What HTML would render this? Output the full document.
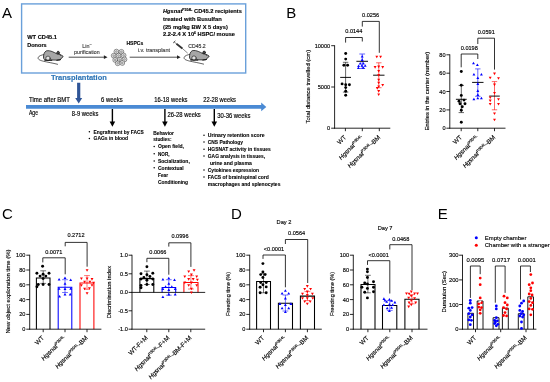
<!DOCTYPE html>
<html lang="en"><head><meta charset="utf-8"><title>Figure</title>
<style>
html,body{margin:0;padding:0;background:#fff;}
svg{display:block;font-family:'Liberation Sans', sans-serif;}
</style></head>
<body>
<svg width="550" height="382" viewBox="0 0 550 382">
<rect width="550" height="382" fill="#fff"/>
<text x="2.00" y="18.30" font-size="15" text-anchor="start" fill="#000" stroke="none">A</text>
<text x="286.30" y="18.30" font-size="15" text-anchor="start" fill="#000" stroke="none">B</text>
<text x="1.90" y="219.40" font-size="15" text-anchor="start" fill="#000" stroke="none">C</text>
<text x="230.90" y="219.10" font-size="15" text-anchor="start" fill="#000" stroke="none">D</text>
<text x="437.70" y="219.10" font-size="15" text-anchor="start" fill="#000" stroke="none">E</text>
<rect x="21.6" y="3.9" width="224.1" height="69.1" fill="#fff" stroke="#6aa0da" stroke-width="1.4"/>
<text x="27.20" y="39.30" font-size="5.8" text-anchor="start" fill="#000" font-weight="bold" textLength="29.80" lengthAdjust="spacingAndGlyphs" stroke="#000" stroke-width="0.12">WT CD45.1</text>
<text x="27.20" y="47.00" font-size="5.8" text-anchor="start" fill="#000" font-weight="bold" textLength="19.50" lengthAdjust="spacingAndGlyphs" stroke="#000" stroke-width="0.12">Donors</text>
<text x="87.00" y="47.50" font-size="5.4" text-anchor="middle" fill="#3c3c3c" stroke="#3c3c3c" stroke-width="0.14">Lin<tspan font-size="4" dy="-1.9">−</tspan></text>
<text x="86.90" y="53.90" font-size="5.4" text-anchor="middle" fill="#3c3c3c" textLength="25.60" lengthAdjust="spacingAndGlyphs" stroke="#3c3c3c" stroke-width="0.14">purification</text>
<line x1="68.70" y1="57.20" x2="105.00" y2="57.20" stroke="#3a3a3a" stroke-width="0.9"/>
<path d="M107.5 57.2L103.9 55.3L103.9 59.1Z" fill="#222"/>
<text x="126.40" y="45.10" font-size="5.8" text-anchor="start" fill="#000" font-weight="bold" textLength="16.80" lengthAdjust="spacingAndGlyphs" stroke="#000" stroke-width="0.12">HSPCs</text>
<line x1="129.70" y1="57.20" x2="178.00" y2="57.20" stroke="#3a3a3a" stroke-width="0.9"/>
<path d="M180.6 57.2L177 55.3L177 59.1Z" fill="#222"/>
<text x="153.90" y="52.30" font-size="5.4" text-anchor="middle" fill="#3c3c3c" textLength="32.20" lengthAdjust="spacingAndGlyphs" stroke="#3c3c3c" stroke-width="0.14">i.v. transplant</text>
<text x="188.30" y="47.60" font-size="5.4" text-anchor="start" fill="#2e2e2e" textLength="17.40" lengthAdjust="spacingAndGlyphs" stroke="#2e2e2e" stroke-width="0.14">CD45.2</text>
<text x="163.00" y="13.20" font-size="5.5" text-anchor="start" fill="#000" font-weight="bold" textLength="78.90" lengthAdjust="spacingAndGlyphs" stroke="#000" stroke-width="0.12"><tspan font-style="italic">Hgsnat</tspan><tspan font-size="3.3" dy="-2.1">P304L</tspan><tspan dy="2.2"> CD45.2 recipients</tspan></text>
<text x="163.00" y="20.90" font-size="5.8" text-anchor="start" fill="#000" font-weight="bold" textLength="58.80" lengthAdjust="spacingAndGlyphs" stroke="#000" stroke-width="0.12">treated with Busulfan</text>
<text x="163.00" y="28.60" font-size="5.8" text-anchor="start" fill="#000" font-weight="bold" textLength="64.90" lengthAdjust="spacingAndGlyphs" stroke="#000" stroke-width="0.12">(25 mg/kg BW X 5 days)</text>
<text x="163.00" y="36.30" font-size="5.5" text-anchor="start" fill="#000" font-weight="bold" textLength="72.00" lengthAdjust="spacingAndGlyphs" stroke="#000" stroke-width="0.12">2.2-2.4 X 10<tspan font-size="3.3" dy="-2.1">6</tspan><tspan dy="2.2"> HSPC/ mouse</tspan></text>
<circle cx="116.40" cy="51.60" r="2.4" fill="#f0f0f0" stroke="#2a2a2a" stroke-width="0.5"/>
<circle cx="116.40" cy="51.60" r="1.0" fill="#bdbdbd" stroke="#555" stroke-width="0.35"/>
<circle cx="121.40" cy="51.80" r="2.4" fill="#f0f0f0" stroke="#2a2a2a" stroke-width="0.5"/>
<circle cx="121.40" cy="51.80" r="1.0" fill="#bdbdbd" stroke="#555" stroke-width="0.35"/>
<circle cx="113.70" cy="55.70" r="2.4" fill="#f0f0f0" stroke="#2a2a2a" stroke-width="0.5"/>
<circle cx="113.70" cy="55.70" r="1.0" fill="#bdbdbd" stroke="#555" stroke-width="0.35"/>
<circle cx="118.50" cy="55.60" r="2.4" fill="#f0f0f0" stroke="#2a2a2a" stroke-width="0.5"/>
<circle cx="118.50" cy="55.60" r="1.0" fill="#bdbdbd" stroke="#555" stroke-width="0.35"/>
<circle cx="123.60" cy="55.40" r="2.4" fill="#f0f0f0" stroke="#2a2a2a" stroke-width="0.5"/>
<circle cx="123.60" cy="55.40" r="1.0" fill="#bdbdbd" stroke="#555" stroke-width="0.35"/>
<circle cx="115.20" cy="60.00" r="2.4" fill="#f0f0f0" stroke="#2a2a2a" stroke-width="0.5"/>
<circle cx="115.20" cy="60.00" r="1.0" fill="#bdbdbd" stroke="#555" stroke-width="0.35"/>
<circle cx="119.80" cy="59.70" r="2.4" fill="#f0f0f0" stroke="#2a2a2a" stroke-width="0.5"/>
<circle cx="119.80" cy="59.70" r="1.0" fill="#bdbdbd" stroke="#555" stroke-width="0.35"/>
<circle cx="124.50" cy="59.40" r="2.4" fill="#f0f0f0" stroke="#2a2a2a" stroke-width="0.5"/>
<circle cx="124.50" cy="59.40" r="1.0" fill="#bdbdbd" stroke="#555" stroke-width="0.35"/>
<circle cx="117.70" cy="63.30" r="2.4" fill="#f0f0f0" stroke="#2a2a2a" stroke-width="0.5"/>
<circle cx="117.70" cy="63.30" r="1.0" fill="#bdbdbd" stroke="#555" stroke-width="0.35"/>
<circle cx="122.30" cy="63.00" r="2.4" fill="#f0f0f0" stroke="#2a2a2a" stroke-width="0.5"/>
<circle cx="122.30" cy="63.00" r="1.0" fill="#bdbdbd" stroke="#555" stroke-width="0.35"/>
<g transform="translate(37.2 50.4)" fill="none" stroke="#111" stroke-width="0.75" stroke-linejoin="round" stroke-linecap="round"><path d="M7 4.2C4.4 4.4 1.2 5.6 0.9 7.4C0.7 9.2 3 10 6.4 10.9C10.4 11.8 15.4 12.6 20.4 13.9" stroke-width="0.65"/><path d="M6.3 7.4C6 4.6 7 1.6 9 0.5C11.4 -0.1 13.4 0.6 15 1.2C16.8 1.9 18.2 2.6 19.6 3.4C21.6 3.6 24.4 4.6 25.8 5.8C26.2 6.6 25.4 7 24.6 7.2L23.8 8.6L22.6 9.5L19 9.7L13.6 9.6L7.6 9.2Z" fill="#a6a6a6"/><ellipse cx="20.9" cy="2.3" rx="1.25" ry="1.45" fill="#555" transform="rotate(25 20.9 2.3)"/><circle cx="23.2" cy="4.7" r="0.5" fill="#111" stroke="none"/><circle cx="10.8" cy="7.9" r="2.2" fill="#e2e2e2" stroke-width="0.6"/><path d="M7.6 9.9H14.6" stroke-width="1.0"/><path d="M19.6 9.9L23.2 9.3" stroke-width="1.0"/></g>
<g transform="translate(183.2 50.2)" fill="none" stroke="#111" stroke-width="0.75" stroke-linejoin="round" stroke-linecap="round"><path d="M7 4.2C4.4 4.4 1.2 5.6 0.9 7.4C0.7 9.2 3 10 6.4 10.9C10.4 11.8 15.4 12.6 20.4 13.9" stroke-width="0.65"/><path d="M6.3 7.4C6 4.6 7 1.6 9 0.5C11.4 -0.1 13.4 0.6 15 1.2C16.8 1.9 18.2 2.6 19.6 3.4C21.6 3.6 24.4 4.6 25.8 5.8C26.2 6.6 25.4 7 24.6 7.2L23.8 8.6L22.6 9.5L19 9.7L13.6 9.6L7.6 9.2Z" fill="#a6a6a6"/><ellipse cx="20.9" cy="2.3" rx="1.25" ry="1.45" fill="#555" transform="rotate(25 20.9 2.3)"/><circle cx="23.2" cy="4.7" r="0.5" fill="#111" stroke="none"/><circle cx="10.8" cy="7.9" r="2.2" fill="#e2e2e2" stroke-width="0.6"/><path d="M7.6 9.9H14.6" stroke-width="1.0"/><path d="M19.6 9.9L23.2 9.3" stroke-width="1.0"/></g>
<g stroke="#111" stroke-linecap="round"><line x1="174.2" y1="41.9" x2="176.4" y2="43.8" stroke-width="0.5"/><line x1="173.4" y1="42.8" x2="175.1" y2="41.1" stroke-width="0.7"/><line x1="176.4" y1="43.8" x2="182.4" y2="48.5" stroke-width="1.8" stroke="#333" stroke-linecap="butt"/><line x1="182.4" y1="48.5" x2="187.4" y2="52.9" stroke-width="0.5"/></g>
<text x="78.90" y="79.70" font-size="8.1" text-anchor="middle" fill="#2e75b6" font-weight="bold" textLength="55.80" lengthAdjust="spacingAndGlyphs" stroke="#2e75b6" stroke-width="0.15">Transplantation</text>
<path d="M77.1 82.7V98H75.2L78.7 103.6L82.2 98H80.3V82.7Z" fill="#2f5597"/>
<path d="M26.0 104.9H261.2V102.6L266.3 106.9L261.2 111.2V108.7H26.0Z" fill="#4a8ad4"/>
<text x="29.00" y="102.40" font-size="6.5" text-anchor="start" fill="#000" textLength="41.00" lengthAdjust="spacingAndGlyphs" stroke="#000" stroke-width="0.16">Time after BMT</text>
<text x="29.00" y="114.50" font-size="6.5" text-anchor="start" fill="#000" textLength="9.00" lengthAdjust="spacingAndGlyphs" stroke="#000" stroke-width="0.16">Age</text>
<text x="101.00" y="101.80" font-size="6.5" text-anchor="start" fill="#000" textLength="21.80" lengthAdjust="spacingAndGlyphs" stroke="#000" stroke-width="0.16">6 weeks</text>
<text x="71.80" y="116.00" font-size="6.5" text-anchor="start" fill="#000" textLength="26.60" lengthAdjust="spacingAndGlyphs" stroke="#000" stroke-width="0.16">8-9 weeks</text>
<text x="154.30" y="101.80" font-size="6.5" text-anchor="start" fill="#000" textLength="33.20" lengthAdjust="spacingAndGlyphs" stroke="#000" stroke-width="0.16">16-18 weeks</text>
<text x="167.60" y="117.40" font-size="6.5" text-anchor="start" fill="#000" textLength="33.20" lengthAdjust="spacingAndGlyphs" stroke="#000" stroke-width="0.16">26-28 weeks</text>
<text x="203.30" y="101.80" font-size="6.5" text-anchor="start" fill="#000" textLength="32.60" lengthAdjust="spacingAndGlyphs" stroke="#000" stroke-width="0.16">22-28 weeks</text>
<text x="217.20" y="117.60" font-size="6.5" text-anchor="start" fill="#000" textLength="33.30" lengthAdjust="spacingAndGlyphs" stroke="#000" stroke-width="0.16">30-36 weeks</text>
<line x1="112.40" y1="109.00" x2="112.40" y2="122.40" stroke="#000" stroke-width="1.4"/>
<path d="M109.60000000000001 121.6L112.4 126.7L115.2 121.6Z" fill="#000"/>
<line x1="164.90" y1="109.00" x2="164.90" y2="122.40" stroke="#000" stroke-width="1.4"/>
<path d="M162.1 121.6L164.9 126.7L167.70000000000002 121.6Z" fill="#000"/>
<line x1="214.30" y1="109.00" x2="214.30" y2="122.40" stroke="#000" stroke-width="1.4"/>
<path d="M211.5 121.6L214.3 126.7L217.10000000000002 121.6Z" fill="#000"/>
<circle cx="89.40" cy="131.80" r="0.75" fill="#000"/>
<text x="93.60" y="133.50" font-size="5.3" text-anchor="start" fill="#000" font-weight="bold" textLength="50.10" lengthAdjust="spacingAndGlyphs" stroke="#000" stroke-width="0.1">Engraftment by FACS</text>
<circle cx="89.40" cy="138.60" r="0.75" fill="#000"/>
<text x="93.60" y="140.30" font-size="5.3" text-anchor="start" fill="#000" font-weight="bold" textLength="34.50" lengthAdjust="spacingAndGlyphs" stroke="#000" stroke-width="0.1">GAGs in blood</text>
<text x="153.20" y="134.70" font-size="5.3" text-anchor="start" fill="#000" font-weight="bold" textLength="20.80" lengthAdjust="spacingAndGlyphs" stroke="#000" stroke-width="0.1">Behavior</text>
<text x="153.20" y="141.40" font-size="5.3" text-anchor="start" fill="#000" font-weight="bold" textLength="18.30" lengthAdjust="spacingAndGlyphs" stroke="#000" stroke-width="0.1">studies:</text>
<circle cx="154.20" cy="146.60" r="0.75" fill="#000"/>
<text x="158.00" y="148.30" font-size="5.3" text-anchor="start" fill="#000" font-weight="bold" textLength="26.00" lengthAdjust="spacingAndGlyphs" stroke="#000" stroke-width="0.1">Open field,</text>
<circle cx="154.20" cy="153.80" r="0.75" fill="#000"/>
<text x="158.00" y="155.50" font-size="5.3" text-anchor="start" fill="#000" font-weight="bold" textLength="11.50" lengthAdjust="spacingAndGlyphs" stroke="#000" stroke-width="0.1">NOR,</text>
<circle cx="154.20" cy="160.90" r="0.75" fill="#000"/>
<text x="158.00" y="162.60" font-size="5.3" text-anchor="start" fill="#000" font-weight="bold" textLength="31.80" lengthAdjust="spacingAndGlyphs" stroke="#000" stroke-width="0.1">Socialization,</text>
<circle cx="154.20" cy="167.80" r="0.75" fill="#000"/>
<text x="158.00" y="169.50" font-size="5.3" text-anchor="start" fill="#000" font-weight="bold" textLength="25.70" lengthAdjust="spacingAndGlyphs" stroke="#000" stroke-width="0.1">Contextual</text>
<text x="158.00" y="176.60" font-size="5.3" text-anchor="start" fill="#000" font-weight="bold" textLength="10.00" lengthAdjust="spacingAndGlyphs" stroke="#000" stroke-width="0.1">Fear</text>
<text x="158.00" y="183.50" font-size="5.3" text-anchor="start" fill="#000" font-weight="bold" textLength="30.00" lengthAdjust="spacingAndGlyphs" stroke="#000" stroke-width="0.1">Conditioning</text>
<circle cx="204.00" cy="135.30" r="0.75" fill="#000"/>
<text x="207.80" y="137.00" font-size="5.3" text-anchor="start" fill="#000" font-weight="bold" textLength="56.80" lengthAdjust="spacingAndGlyphs" stroke="#000" stroke-width="0.1">Urinary retention score</text>
<circle cx="204.00" cy="142.10" r="0.75" fill="#000"/>
<text x="207.80" y="143.80" font-size="5.3" text-anchor="start" fill="#000" font-weight="bold" textLength="35.20" lengthAdjust="spacingAndGlyphs" stroke="#000" stroke-width="0.1">CNS Pathology</text>
<circle cx="204.00" cy="149.20" r="0.75" fill="#000"/>
<text x="207.80" y="150.90" font-size="5.3" text-anchor="start" fill="#000" font-weight="bold" textLength="62.90" lengthAdjust="spacingAndGlyphs" stroke="#000" stroke-width="0.1">HGSNAT activity in tissues</text>
<circle cx="204.00" cy="156.10" r="0.75" fill="#000"/>
<text x="207.80" y="157.80" font-size="5.3" text-anchor="start" fill="#000" font-weight="bold" textLength="57.30" lengthAdjust="spacingAndGlyphs" stroke="#000" stroke-width="0.1">GAG analysis in tissues,</text>
<text x="210.00" y="164.80" font-size="5.3" text-anchor="start" fill="#000" font-weight="bold" textLength="41.80" lengthAdjust="spacingAndGlyphs" stroke="#000" stroke-width="0.1">urine and plasma</text>
<circle cx="204.00" cy="170.00" r="0.75" fill="#000"/>
<text x="207.80" y="171.70" font-size="5.3" text-anchor="start" fill="#000" font-weight="bold" textLength="51.20" lengthAdjust="spacingAndGlyphs" stroke="#000" stroke-width="0.1">Cytokines expression</text>
<circle cx="204.00" cy="176.90" r="0.75" fill="#000"/>
<text x="207.80" y="178.60" font-size="5.3" text-anchor="start" fill="#000" font-weight="bold" textLength="61.00" lengthAdjust="spacingAndGlyphs" stroke="#000" stroke-width="0.1">FACS of brain/spinal cord</text>
<text x="207.80" y="185.60" font-size="5.3" text-anchor="start" fill="#000" font-weight="bold" textLength="72.60" lengthAdjust="spacingAndGlyphs" stroke="#000" stroke-width="0.1">macrophages and splenocytes</text>
<line x1="334.60" y1="45.28" x2="334.60" y2="128.62" stroke="#000" stroke-width="0.85"/>
<line x1="331.20" y1="45.70" x2="334.60" y2="45.70" stroke="#000" stroke-width="0.85"/>
<text x="330.20" y="47.70" font-size="5.6" text-anchor="end" fill="#000" stroke="#000" stroke-width="0.14">10000</text>
<line x1="331.20" y1="87.00" x2="334.60" y2="87.00" stroke="#000" stroke-width="0.85"/>
<text x="330.20" y="89.00" font-size="5.6" text-anchor="end" fill="#000" stroke="#000" stroke-width="0.14">5000</text>
<line x1="331.20" y1="128.20" x2="334.60" y2="128.20" stroke="#000" stroke-width="0.85"/>
<text x="330.20" y="130.20" font-size="5.6" text-anchor="end" fill="#000" stroke="#000" stroke-width="0.14">0</text>
<line x1="334.18" y1="128.20" x2="390.30" y2="128.20" stroke="#000" stroke-width="0.85"/>
<line x1="345.40" y1="128.20" x2="345.40" y2="131.20" stroke="#000" stroke-width="0.85"/>
<line x1="362.30" y1="128.20" x2="362.30" y2="131.20" stroke="#000" stroke-width="0.85"/>
<line x1="379.30" y1="128.20" x2="379.30" y2="131.20" stroke="#000" stroke-width="0.85"/>
<text x="310.20" y="86.60" font-size="5.9" text-anchor="middle" fill="#000" stroke="#000" stroke-width="0.14" transform="rotate(-90 310.20 86.60)" textLength="73.60" lengthAdjust="spacingAndGlyphs">Total distance travelled (cm)</text>
<path d="M345.60 42.60V37.50H362.30V41.50" fill="none" stroke="#000" stroke-width="0.8"/>
<text x="353.80" y="33.40" font-size="5.6" text-anchor="middle" fill="#000" stroke="#000" stroke-width="0.14">0.0144</text>
<path d="M362.30 26.60V21.40H379.30V52.80" fill="none" stroke="#000" stroke-width="0.8"/>
<text x="370.60" y="16.80" font-size="5.6" text-anchor="middle" fill="#000" stroke="#000" stroke-width="0.14">0.0256</text>
<line x1="345.60" y1="62.30" x2="345.60" y2="92.10" stroke="#000" stroke-width="0.6"/>
<line x1="342.90" y1="62.30" x2="348.30" y2="62.30" stroke="#000" stroke-width="0.6"/>
<line x1="342.90" y1="92.10" x2="348.30" y2="92.10" stroke="#000" stroke-width="0.6"/>
<line x1="340.20" y1="77.40" x2="351.00" y2="77.40" stroke="#000" stroke-width="0.95"/>
<circle cx="345.70" cy="53.50" r="1.45" fill="#000"/>
<circle cx="345.70" cy="59.10" r="1.45" fill="#000"/>
<circle cx="343.90" cy="65.30" r="1.45" fill="#000"/>
<circle cx="347.60" cy="65.30" r="1.45" fill="#000"/>
<circle cx="342.10" cy="83.90" r="1.45" fill="#000"/>
<circle cx="345.70" cy="84.80" r="1.45" fill="#000"/>
<circle cx="349.40" cy="84.80" r="1.45" fill="#000"/>
<circle cx="345.70" cy="87.60" r="1.45" fill="#000"/>
<circle cx="345.70" cy="91.20" r="1.45" fill="#000"/>
<circle cx="345.70" cy="95.30" r="1.45" fill="#000"/>
<line x1="362.20" y1="54.00" x2="362.20" y2="68.50" stroke="#0000ff" stroke-width="0.6"/>
<line x1="359.30" y1="54.00" x2="365.10" y2="54.00" stroke="#0000ff" stroke-width="0.6"/>
<line x1="359.30" y1="68.50" x2="365.10" y2="68.50" stroke="#0000ff" stroke-width="0.6"/>
<line x1="356.40" y1="61.30" x2="368.00" y2="61.30" stroke="#000" stroke-width="0.95"/>
<path d="M362.20 55.05L363.65 57.59L360.75 57.59Z" fill="#0000ff"/>
<path d="M362.20 58.35L363.65 60.89L360.75 60.89Z" fill="#0000ff"/>
<path d="M360.20 62.05L361.65 64.59L358.75 64.59Z" fill="#0000ff"/>
<path d="M363.40 62.05L364.85 64.59L361.95 64.59Z" fill="#0000ff"/>
<path d="M358.60 64.55L360.05 67.09L357.15 67.09Z" fill="#0000ff"/>
<path d="M361.90 64.25L363.35 66.79L360.45 66.79Z" fill="#0000ff"/>
<path d="M365.20 64.25L366.65 66.79L363.75 66.79Z" fill="#0000ff"/>
<path d="M358.40 66.45L359.85 68.99L356.95 68.99Z" fill="#0000ff"/>
<path d="M363.30 66.15L364.75 68.69L361.85 68.69Z" fill="#0000ff"/>
<line x1="378.80" y1="62.80" x2="378.80" y2="87.70" stroke="#ff0000" stroke-width="0.6"/>
<line x1="376.10" y1="62.80" x2="381.50" y2="62.80" stroke="#ff0000" stroke-width="0.6"/>
<line x1="376.10" y1="87.70" x2="381.50" y2="87.70" stroke="#ff0000" stroke-width="0.6"/>
<line x1="373.10" y1="75.20" x2="384.50" y2="75.20" stroke="#000" stroke-width="0.95"/>
<path d="M376.80 58.35L378.25 55.81L375.35 55.81Z" fill="#ff0000"/>
<path d="M380.60 58.35L382.05 55.81L379.15 55.81Z" fill="#ff0000"/>
<path d="M375.10 68.65L376.55 66.11L373.65 66.11Z" fill="#ff0000"/>
<path d="M378.70 68.15L380.15 65.61L377.25 65.61Z" fill="#ff0000"/>
<path d="M382.70 68.65L384.15 66.11L381.25 66.11Z" fill="#ff0000"/>
<path d="M378.70 72.55L380.15 70.01L377.25 70.01Z" fill="#ff0000"/>
<path d="M378.70 76.65L380.15 74.11L377.25 74.11Z" fill="#ff0000"/>
<path d="M378.70 81.35L380.15 78.81L377.25 78.81Z" fill="#ff0000"/>
<path d="M378.70 84.35L380.15 81.81L377.25 81.81Z" fill="#ff0000"/>
<path d="M382.70 86.45L384.15 83.91L381.25 83.91Z" fill="#ff0000"/>
<path d="M378.70 87.95L380.15 85.41L377.25 85.41Z" fill="#ff0000"/>
<path d="M377.30 89.65L378.75 87.11L375.85 87.11Z" fill="#ff0000"/>
<path d="M378.70 92.65L380.15 90.11L377.25 90.11Z" fill="#ff0000"/>
<path d="M378.70 96.05L380.15 93.51L377.25 93.51Z" fill="#ff0000"/>
<text x="346.70" y="137.70" font-size="6.3" text-anchor="end" fill="#000" transform="rotate(-45 346.70 137.70)" stroke="#000" stroke-width="0.14">WT</text>
<text x="363.70" y="137.70" font-size="6.3" text-anchor="end" fill="#000" transform="rotate(-45 363.70 137.70)" stroke="#000" stroke-width="0.14"><tspan font-style="italic">Hgsnat</tspan><tspan font-size="4.1" dy="-2.2">P304L</tspan></text>
<text x="380.70" y="137.70" font-size="6.3" text-anchor="end" fill="#000" transform="rotate(-45 380.70 137.70)" stroke="#000" stroke-width="0.14"><tspan font-style="italic">Hgsnat</tspan><tspan font-size="4.1" dy="-2.2">P304L</tspan><tspan dy="2.2">-BM</tspan></text>
<line x1="449.80" y1="54.38" x2="449.80" y2="128.62" stroke="#000" stroke-width="0.85"/>
<line x1="446.40" y1="54.80" x2="449.80" y2="54.80" stroke="#000" stroke-width="0.85"/>
<text x="445.60" y="56.80" font-size="5.6" text-anchor="end" fill="#000" stroke="#000" stroke-width="0.14">80</text>
<line x1="446.40" y1="73.20" x2="449.80" y2="73.20" stroke="#000" stroke-width="0.85"/>
<text x="445.60" y="75.20" font-size="5.6" text-anchor="end" fill="#000" stroke="#000" stroke-width="0.14">60</text>
<line x1="446.40" y1="91.50" x2="449.80" y2="91.50" stroke="#000" stroke-width="0.85"/>
<text x="445.60" y="93.50" font-size="5.6" text-anchor="end" fill="#000" stroke="#000" stroke-width="0.14">40</text>
<line x1="446.40" y1="109.90" x2="449.80" y2="109.90" stroke="#000" stroke-width="0.85"/>
<text x="445.60" y="111.90" font-size="5.6" text-anchor="end" fill="#000" stroke="#000" stroke-width="0.14">20</text>
<line x1="446.40" y1="128.20" x2="449.80" y2="128.20" stroke="#000" stroke-width="0.85"/>
<text x="445.60" y="130.20" font-size="5.6" text-anchor="end" fill="#000" stroke="#000" stroke-width="0.14">0</text>
<line x1="449.38" y1="128.20" x2="505.50" y2="128.20" stroke="#000" stroke-width="0.85"/>
<line x1="461.20" y1="128.20" x2="461.20" y2="131.20" stroke="#000" stroke-width="0.85"/>
<line x1="477.80" y1="128.20" x2="477.80" y2="131.20" stroke="#000" stroke-width="0.85"/>
<line x1="494.50" y1="128.20" x2="494.50" y2="131.20" stroke="#000" stroke-width="0.85"/>
<text x="429.00" y="91.20" font-size="5.9" text-anchor="middle" fill="#000" stroke="#000" stroke-width="0.14" transform="rotate(-90 429.00 91.20)" textLength="78.80" lengthAdjust="spacingAndGlyphs">Entries in the center (number)</text>
<path d="M461.20 67.30V54.00H477.80V59.00" fill="none" stroke="#000" stroke-width="0.8"/>
<text x="469.30" y="49.90" font-size="5.6" text-anchor="middle" fill="#000" stroke="#000" stroke-width="0.14">0.0198</text>
<path d="M477.80 44.00V38.20H494.50V69.60" fill="none" stroke="#000" stroke-width="0.8"/>
<text x="486.20" y="34.10" font-size="5.6" text-anchor="middle" fill="#000" stroke="#000" stroke-width="0.14">0.0591</text>
<line x1="461.30" y1="85.40" x2="461.30" y2="112.60" stroke="#000" stroke-width="0.6"/>
<line x1="458.60" y1="85.40" x2="464.00" y2="85.40" stroke="#000" stroke-width="0.6"/>
<line x1="458.60" y1="112.60" x2="464.00" y2="112.60" stroke="#000" stroke-width="0.6"/>
<line x1="455.90" y1="99.30" x2="466.70" y2="99.30" stroke="#000" stroke-width="0.95"/>
<circle cx="461.30" cy="71.50" r="1.45" fill="#000"/>
<circle cx="461.30" cy="85.20" r="1.45" fill="#000"/>
<circle cx="461.30" cy="95.40" r="1.45" fill="#000"/>
<circle cx="459.00" cy="101.30" r="1.45" fill="#000"/>
<circle cx="464.00" cy="100.10" r="1.45" fill="#000"/>
<circle cx="460.00" cy="103.70" r="1.45" fill="#000"/>
<circle cx="465.00" cy="103.70" r="1.45" fill="#000"/>
<circle cx="462.30" cy="106.70" r="1.45" fill="#000"/>
<circle cx="461.30" cy="110.30" r="1.45" fill="#000"/>
<circle cx="461.30" cy="122.20" r="1.45" fill="#000"/>
<line x1="477.80" y1="68.90" x2="477.80" y2="96.30" stroke="#0000ff" stroke-width="0.6"/>
<line x1="475.10" y1="68.90" x2="480.50" y2="68.90" stroke="#0000ff" stroke-width="0.6"/>
<line x1="475.10" y1="96.30" x2="480.50" y2="96.30" stroke="#0000ff" stroke-width="0.6"/>
<line x1="472.10" y1="82.40" x2="483.50" y2="82.40" stroke="#000" stroke-width="0.95"/>
<path d="M473.50 61.75L474.95 64.29L472.05 64.29Z" fill="#0000ff"/>
<path d="M477.40 63.55L478.85 66.09L475.95 66.09Z" fill="#0000ff"/>
<path d="M473.90 73.05L475.35 75.59L472.45 75.59Z" fill="#0000ff"/>
<path d="M481.40 73.05L482.85 75.59L479.95 75.59Z" fill="#0000ff"/>
<path d="M477.80 76.45L479.25 78.99L476.35 78.99Z" fill="#0000ff"/>
<path d="M477.80 82.35L479.25 84.89L476.35 84.89Z" fill="#0000ff"/>
<path d="M477.80 89.35L479.25 91.89L476.35 91.89Z" fill="#0000ff"/>
<path d="M477.80 93.35L479.25 95.89L476.35 95.89Z" fill="#0000ff"/>
<path d="M473.90 97.65L475.35 100.19L472.45 100.19Z" fill="#0000ff"/>
<path d="M477.80 96.65L479.25 99.19L476.35 99.19Z" fill="#0000ff"/>
<path d="M481.40 96.65L482.85 99.19L479.95 99.19Z" fill="#0000ff"/>
<line x1="494.50" y1="81.60" x2="494.50" y2="109.80" stroke="#ff0000" stroke-width="0.6"/>
<line x1="491.80" y1="81.60" x2="497.20" y2="81.60" stroke="#ff0000" stroke-width="0.6"/>
<line x1="491.80" y1="109.80" x2="497.20" y2="109.80" stroke="#ff0000" stroke-width="0.6"/>
<line x1="489.20" y1="96.10" x2="499.80" y2="96.10" stroke="#000" stroke-width="0.95"/>
<path d="M494.50 75.15L495.95 72.61L493.05 72.61Z" fill="#ff0000"/>
<path d="M490.20 79.25L491.65 76.71L488.75 76.71Z" fill="#ff0000"/>
<path d="M498.50 79.75L499.95 77.21L497.05 77.21Z" fill="#ff0000"/>
<path d="M494.50 86.15L495.95 83.61L493.05 83.61Z" fill="#ff0000"/>
<path d="M494.50 94.45L495.95 91.91L493.05 91.91Z" fill="#ff0000"/>
<path d="M490.20 98.95L491.65 96.41L488.75 96.41Z" fill="#ff0000"/>
<path d="M490.20 102.15L491.65 99.61L488.75 99.61Z" fill="#ff0000"/>
<path d="M498.50 100.85L499.95 98.31L497.05 98.31Z" fill="#ff0000"/>
<path d="M490.20 105.45L491.65 102.91L488.75 102.91Z" fill="#ff0000"/>
<path d="M498.50 105.45L499.95 102.91L497.05 102.91Z" fill="#ff0000"/>
<path d="M494.50 114.95L495.95 112.41L493.05 112.41Z" fill="#ff0000"/>
<path d="M494.50 121.35L495.95 118.81L493.05 118.81Z" fill="#ff0000"/>
<text x="462.50" y="137.70" font-size="6.3" text-anchor="end" fill="#000" transform="rotate(-45 462.50 137.70)" stroke="#000" stroke-width="0.14">WT</text>
<text x="479.10" y="137.70" font-size="6.3" text-anchor="end" fill="#000" transform="rotate(-45 479.10 137.70)" stroke="#000" stroke-width="0.14"><tspan font-style="italic">Hgsnat</tspan><tspan font-size="4.1" dy="-2.2">P304L</tspan></text>
<text x="495.80" y="137.70" font-size="6.3" text-anchor="end" fill="#000" transform="rotate(-45 495.80 137.70)" stroke="#000" stroke-width="0.14"><tspan font-style="italic">Hgsnat</tspan><tspan font-size="4.1" dy="-2.2">P304L</tspan><tspan dy="2.2">-BM</tspan></text>
<line x1="29.70" y1="254.77" x2="29.70" y2="329.62" stroke="#000" stroke-width="0.85"/>
<line x1="26.30" y1="255.20" x2="29.70" y2="255.20" stroke="#000" stroke-width="0.85"/>
<text x="25.40" y="257.20" font-size="5.6" text-anchor="end" fill="#000" stroke="#000" stroke-width="0.14">100</text>
<line x1="26.30" y1="270.00" x2="29.70" y2="270.00" stroke="#000" stroke-width="0.85"/>
<text x="25.40" y="272.00" font-size="5.6" text-anchor="end" fill="#000" stroke="#000" stroke-width="0.14">80</text>
<line x1="26.30" y1="284.80" x2="29.70" y2="284.80" stroke="#000" stroke-width="0.85"/>
<text x="25.40" y="286.80" font-size="5.6" text-anchor="end" fill="#000" stroke="#000" stroke-width="0.14">60</text>
<line x1="26.30" y1="299.60" x2="29.70" y2="299.60" stroke="#000" stroke-width="0.85"/>
<text x="25.40" y="301.60" font-size="5.6" text-anchor="end" fill="#000" stroke="#000" stroke-width="0.14">40</text>
<line x1="26.30" y1="314.40" x2="29.70" y2="314.40" stroke="#000" stroke-width="0.85"/>
<text x="25.40" y="316.40" font-size="5.6" text-anchor="end" fill="#000" stroke="#000" stroke-width="0.14">20</text>
<line x1="26.30" y1="329.20" x2="29.70" y2="329.20" stroke="#000" stroke-width="0.85"/>
<text x="25.40" y="331.20" font-size="5.6" text-anchor="end" fill="#000" stroke="#000" stroke-width="0.14">0</text>
<path d="M36.40 329.20V277.90H50.00V329.20" fill="#fff" stroke="#000" stroke-width="1.05"/>
<path d="M58.20 329.20V287.20H71.80V329.20" fill="#fff" stroke="#0000ff" stroke-width="1.05"/>
<path d="M80.00 329.20V283.00H93.90V329.20" fill="#fff" stroke="#ff0000" stroke-width="1.05"/>
<line x1="29.27" y1="329.20" x2="101.40" y2="329.20" stroke="#000" stroke-width="0.85"/>
<line x1="43.20" y1="329.20" x2="43.20" y2="332.20" stroke="#000" stroke-width="0.85"/>
<line x1="65.00" y1="329.20" x2="65.00" y2="332.20" stroke="#000" stroke-width="0.85"/>
<line x1="87.00" y1="329.20" x2="87.00" y2="332.20" stroke="#000" stroke-width="0.85"/>
<text x="10.20" y="291.50" font-size="5.9" text-anchor="middle" fill="#000" stroke="#000" stroke-width="0.14" transform="rotate(-90 10.20 291.50)" textLength="84.00" lengthAdjust="spacingAndGlyphs">New object exploration time (%)</text>
<path d="M42.80 262.40V257.80H65.20V274.30" fill="none" stroke="#000" stroke-width="0.8"/>
<text x="53.70" y="253.70" font-size="5.6" text-anchor="middle" fill="#000" stroke="#000" stroke-width="0.14">0.0071</text>
<path d="M65.20 246.30V242.40H87.10V266.70" fill="none" stroke="#000" stroke-width="0.8"/>
<text x="76.00" y="237.40" font-size="5.6" text-anchor="middle" fill="#000" stroke="#000" stroke-width="0.14">0.2712</text>
<line x1="43.20" y1="270.80" x2="43.20" y2="283.40" stroke="#000" stroke-width="0.55"/>
<line x1="40.30" y1="270.80" x2="46.10" y2="270.80" stroke="#000" stroke-width="0.55"/>
<line x1="40.30" y1="283.40" x2="46.10" y2="283.40" stroke="#000" stroke-width="0.55"/>
<circle cx="42.60" cy="266.20" r="1.45" fill="#000"/>
<circle cx="36.90" cy="273.30" r="1.45" fill="#000"/>
<circle cx="43.10" cy="274.20" r="1.45" fill="#000"/>
<circle cx="49.00" cy="273.30" r="1.45" fill="#000"/>
<circle cx="40.10" cy="276.10" r="1.45" fill="#000"/>
<circle cx="45.80" cy="276.10" r="1.45" fill="#000"/>
<circle cx="43.10" cy="278.60" r="1.45" fill="#000"/>
<circle cx="38.30" cy="284.50" r="1.45" fill="#000"/>
<circle cx="43.10" cy="284.50" r="1.45" fill="#000"/>
<circle cx="49.00" cy="284.50" r="1.45" fill="#000"/>
<circle cx="36.90" cy="286.80" r="1.45" fill="#000"/>
<line x1="65.00" y1="279.70" x2="65.00" y2="292.50" stroke="#0000ff" stroke-width="0.55"/>
<line x1="62.10" y1="279.70" x2="67.90" y2="279.70" stroke="#0000ff" stroke-width="0.55"/>
<line x1="62.10" y1="292.50" x2="67.90" y2="292.50" stroke="#0000ff" stroke-width="0.55"/>
<path d="M65.00 276.45L66.45 278.99L63.55 278.99Z" fill="#0000ff"/>
<path d="M59.10 277.95L60.55 280.49L57.65 280.49Z" fill="#0000ff"/>
<path d="M70.70 278.55L72.15 281.09L69.25 281.09Z" fill="#0000ff"/>
<path d="M65.00 282.15L66.45 284.69L63.55 284.69Z" fill="#0000ff"/>
<path d="M59.10 287.15L60.55 289.69L57.65 289.69Z" fill="#0000ff"/>
<path d="M70.70 287.15L72.15 289.69L69.25 289.69Z" fill="#0000ff"/>
<path d="M65.00 287.55L66.45 290.09L63.55 290.09Z" fill="#0000ff"/>
<path d="M65.00 292.85L66.45 295.39L63.55 295.39Z" fill="#0000ff"/>
<path d="M70.20 292.85L71.65 295.39L68.75 295.39Z" fill="#0000ff"/>
<path d="M59.60 294.95L61.05 297.49L58.15 297.49Z" fill="#0000ff"/>
<line x1="87.00" y1="275.60" x2="87.00" y2="289.30" stroke="#ff0000" stroke-width="0.55"/>
<line x1="84.10" y1="275.60" x2="89.90" y2="275.60" stroke="#ff0000" stroke-width="0.55"/>
<line x1="84.10" y1="289.30" x2="89.90" y2="289.30" stroke="#ff0000" stroke-width="0.55"/>
<path d="M87.10 271.75L88.55 269.21L85.65 269.21Z" fill="#ff0000"/>
<path d="M81.40 280.05L82.85 277.51L79.95 277.51Z" fill="#ff0000"/>
<path d="M87.10 280.05L88.55 277.51L85.65 277.51Z" fill="#ff0000"/>
<path d="M92.00 280.65L93.45 278.11L90.55 278.11Z" fill="#ff0000"/>
<path d="M84.60 283.25L86.05 280.71L83.15 280.71Z" fill="#ff0000"/>
<path d="M89.90 283.25L91.35 280.71L88.45 280.71Z" fill="#ff0000"/>
<path d="M93.60 284.35L95.05 281.81L92.15 281.81Z" fill="#ff0000"/>
<path d="M81.40 286.85L82.85 284.31L79.95 284.31Z" fill="#ff0000"/>
<path d="M92.00 286.85L93.45 284.31L90.55 284.31Z" fill="#ff0000"/>
<path d="M84.60 290.35L86.05 287.81L83.15 287.81Z" fill="#ff0000"/>
<path d="M89.40 289.85L90.85 287.31L87.95 287.31Z" fill="#ff0000"/>
<path d="M87.10 294.85L88.55 292.31L85.65 292.31Z" fill="#ff0000"/>
<text x="44.50" y="338.40" font-size="6.3" text-anchor="end" fill="#000" transform="rotate(-45 44.50 338.40)" stroke="#000" stroke-width="0.14">WT</text>
<text x="66.30" y="338.40" font-size="6.3" text-anchor="end" fill="#000" transform="rotate(-45 66.30 338.40)" stroke="#000" stroke-width="0.14"><tspan font-style="italic">Hgsnat</tspan><tspan font-size="4.1" dy="-2.2">P304L</tspan></text>
<text x="88.30" y="338.40" font-size="6.3" text-anchor="end" fill="#000" transform="rotate(-45 88.30 338.40)" stroke="#000" stroke-width="0.14"><tspan font-style="italic">Hgsnat</tspan><tspan font-size="4.1" dy="-2.2">P304L</tspan><tspan dy="2.2">-BM</tspan></text>
<path d="M139.90 292.40V278.60H153.80V292.40" fill="#fff" stroke="#000" stroke-width="1.05"/>
<path d="M162.10 292.40V287.50H175.70V292.40" fill="#fff" stroke="#0000ff" stroke-width="1.05"/>
<path d="M183.90 292.40V282.40H198.00V292.40" fill="#fff" stroke="#ff0000" stroke-width="1.05"/>
<line x1="132.00" y1="254.77" x2="132.00" y2="329.62" stroke="#000" stroke-width="0.85"/>
<line x1="128.60" y1="255.20" x2="132.00" y2="255.20" stroke="#000" stroke-width="0.85"/>
<text x="127.80" y="257.20" font-size="5.6" text-anchor="end" fill="#000" stroke="#000" stroke-width="0.14">1.0</text>
<line x1="128.60" y1="273.80" x2="132.00" y2="273.80" stroke="#000" stroke-width="0.85"/>
<text x="127.80" y="275.80" font-size="5.6" text-anchor="end" fill="#000" stroke="#000" stroke-width="0.14">0.5</text>
<line x1="128.60" y1="292.40" x2="132.00" y2="292.40" stroke="#000" stroke-width="0.85"/>
<text x="127.80" y="294.40" font-size="5.6" text-anchor="end" fill="#000" stroke="#000" stroke-width="0.14">0.0</text>
<line x1="128.60" y1="310.80" x2="132.00" y2="310.80" stroke="#000" stroke-width="0.85"/>
<text x="127.80" y="312.80" font-size="5.6" text-anchor="end" fill="#000" stroke="#000" stroke-width="0.14">-0.5</text>
<line x1="128.60" y1="329.20" x2="132.00" y2="329.20" stroke="#000" stroke-width="0.85"/>
<text x="127.80" y="331.20" font-size="5.6" text-anchor="end" fill="#000" stroke="#000" stroke-width="0.14">-1.0</text>
<line x1="131.57" y1="292.40" x2="205.20" y2="292.40" stroke="#000" stroke-width="0.85"/>
<line x1="131.57" y1="329.20" x2="205.20" y2="329.20" stroke="#000" stroke-width="0.85"/>
<line x1="146.80" y1="329.20" x2="146.80" y2="332.20" stroke="#000" stroke-width="0.85"/>
<line x1="168.80" y1="329.20" x2="168.80" y2="332.20" stroke="#000" stroke-width="0.85"/>
<line x1="190.80" y1="329.20" x2="190.80" y2="332.20" stroke="#000" stroke-width="0.85"/>
<text x="111.50" y="292.10" font-size="5.9" text-anchor="middle" fill="#000" stroke="#000" stroke-width="0.14" transform="rotate(-90 111.50 292.10)" textLength="52.40" lengthAdjust="spacingAndGlyphs">Discrimination index</text>
<path d="M146.90 262.20V258.30H168.80V274.70" fill="none" stroke="#000" stroke-width="0.8"/>
<text x="157.90" y="254.20" font-size="5.6" text-anchor="middle" fill="#000" stroke="#000" stroke-width="0.14">0.0066</text>
<path d="M168.80 246.60V242.80H190.90V266.90" fill="none" stroke="#000" stroke-width="0.8"/>
<text x="180.00" y="238.10" font-size="5.6" text-anchor="middle" fill="#000" stroke="#000" stroke-width="0.14">0.0996</text>
<line x1="146.90" y1="271.10" x2="146.90" y2="284.50" stroke="#000" stroke-width="0.55"/>
<line x1="144.00" y1="271.10" x2="149.80" y2="271.10" stroke="#000" stroke-width="0.55"/>
<line x1="144.00" y1="284.50" x2="149.80" y2="284.50" stroke="#000" stroke-width="0.55"/>
<circle cx="146.90" cy="266.70" r="1.45" fill="#000"/>
<circle cx="141.00" cy="273.80" r="1.45" fill="#000"/>
<circle cx="146.90" cy="274.70" r="1.45" fill="#000"/>
<circle cx="152.80" cy="273.30" r="1.45" fill="#000"/>
<circle cx="143.90" cy="277.40" r="1.45" fill="#000"/>
<circle cx="149.90" cy="276.50" r="1.45" fill="#000"/>
<circle cx="141.00" cy="279.00" r="1.45" fill="#000"/>
<circle cx="152.80" cy="279.00" r="1.45" fill="#000"/>
<circle cx="146.90" cy="280.30" r="1.45" fill="#000"/>
<circle cx="141.00" cy="285.40" r="1.45" fill="#000"/>
<circle cx="146.90" cy="284.50" r="1.45" fill="#000"/>
<circle cx="152.80" cy="284.50" r="1.45" fill="#000"/>
<circle cx="141.00" cy="287.70" r="1.45" fill="#000"/>
<line x1="168.80" y1="279.70" x2="168.80" y2="295.20" stroke="#0000ff" stroke-width="0.55"/>
<line x1="165.90" y1="279.70" x2="171.70" y2="279.70" stroke="#0000ff" stroke-width="0.55"/>
<line x1="165.90" y1="295.20" x2="171.70" y2="295.20" stroke="#0000ff" stroke-width="0.55"/>
<path d="M168.80 276.65L170.25 279.19L167.35 279.19Z" fill="#0000ff"/>
<path d="M162.90 277.95L164.35 280.49L161.45 280.49Z" fill="#0000ff"/>
<path d="M174.50 278.55L175.95 281.09L173.05 281.09Z" fill="#0000ff"/>
<path d="M168.80 282.15L170.25 284.69L167.35 284.69Z" fill="#0000ff"/>
<path d="M165.60 285.35L167.05 287.89L164.15 287.89Z" fill="#0000ff"/>
<path d="M171.80 285.35L173.25 287.89L170.35 287.89Z" fill="#0000ff"/>
<path d="M162.90 287.45L164.35 289.99L161.45 289.99Z" fill="#0000ff"/>
<path d="M175.20 287.45L176.65 289.99L173.75 289.99Z" fill="#0000ff"/>
<path d="M168.80 288.35L170.25 290.89L167.35 290.89Z" fill="#0000ff"/>
<path d="M168.80 292.85L170.25 295.39L167.35 295.39Z" fill="#0000ff"/>
<path d="M175.20 292.85L176.65 295.39L173.75 295.39Z" fill="#0000ff"/>
<path d="M162.90 295.55L164.35 298.09L161.45 298.09Z" fill="#0000ff"/>
<line x1="190.90" y1="275.60" x2="190.90" y2="289.00" stroke="#ff0000" stroke-width="0.55"/>
<line x1="188.00" y1="275.60" x2="193.80" y2="275.60" stroke="#ff0000" stroke-width="0.55"/>
<line x1="188.00" y1="289.00" x2="193.80" y2="289.00" stroke="#ff0000" stroke-width="0.55"/>
<path d="M188.70 272.95L190.15 270.41L187.25 270.41Z" fill="#ff0000"/>
<path d="M194.10 271.75L195.55 269.21L192.65 269.21Z" fill="#ff0000"/>
<path d="M184.80 277.95L186.25 275.41L183.35 275.41Z" fill="#ff0000"/>
<path d="M191.40 276.15L192.85 273.61L189.95 273.61Z" fill="#ff0000"/>
<path d="M196.70 277.95L198.15 275.41L195.25 275.41Z" fill="#ff0000"/>
<path d="M188.70 280.65L190.15 278.11L187.25 278.11Z" fill="#ff0000"/>
<path d="M193.20 280.65L194.65 278.11L191.75 278.11Z" fill="#ff0000"/>
<path d="M197.40 281.35L198.85 278.81L195.95 278.81Z" fill="#ff0000"/>
<path d="M184.80 284.15L186.25 281.61L183.35 281.61Z" fill="#ff0000"/>
<path d="M191.40 284.15L192.85 281.61L189.95 281.61Z" fill="#ff0000"/>
<path d="M188.70 286.85L190.15 284.31L187.25 284.31Z" fill="#ff0000"/>
<path d="M196.70 286.85L198.15 284.31L195.25 284.31Z" fill="#ff0000"/>
<path d="M191.40 290.35L192.85 287.81L189.95 287.81Z" fill="#ff0000"/>
<path d="M191.40 294.05L192.85 291.51L189.95 291.51Z" fill="#ff0000"/>
<text x="148.10" y="338.40" font-size="6.3" text-anchor="end" fill="#000" transform="rotate(-45 148.10 338.40)" stroke="#000" stroke-width="0.14">WT-F+M</text>
<text x="170.10" y="338.40" font-size="6.3" text-anchor="end" fill="#000" transform="rotate(-45 170.10 338.40)" stroke="#000" stroke-width="0.14"><tspan font-style="italic">Hgsnat</tspan><tspan font-size="4.1" dy="-2.2">P304L</tspan><tspan dy="2.2">-F+M</tspan></text>
<text x="192.10" y="338.40" font-size="6.3" text-anchor="end" fill="#000" transform="rotate(-45 192.10 338.40)" stroke="#000" stroke-width="0.14"><tspan font-style="italic">Hgsnat</tspan><tspan font-size="4.1" dy="-2.2">P304L</tspan><tspan dy="2.2">-BM-F+M</tspan></text>
<line x1="249.70" y1="254.77" x2="249.70" y2="329.62" stroke="#000" stroke-width="0.85"/>
<line x1="246.30" y1="255.20" x2="249.70" y2="255.20" stroke="#000" stroke-width="0.85"/>
<text x="245.40" y="257.20" font-size="5.6" text-anchor="end" fill="#000" stroke="#000" stroke-width="0.14">100</text>
<line x1="246.30" y1="270.00" x2="249.70" y2="270.00" stroke="#000" stroke-width="0.85"/>
<text x="245.40" y="272.00" font-size="5.6" text-anchor="end" fill="#000" stroke="#000" stroke-width="0.14">80</text>
<line x1="246.30" y1="284.80" x2="249.70" y2="284.80" stroke="#000" stroke-width="0.85"/>
<text x="245.40" y="286.80" font-size="5.6" text-anchor="end" fill="#000" stroke="#000" stroke-width="0.14">60</text>
<line x1="246.30" y1="299.60" x2="249.70" y2="299.60" stroke="#000" stroke-width="0.85"/>
<text x="245.40" y="301.60" font-size="5.6" text-anchor="end" fill="#000" stroke="#000" stroke-width="0.14">40</text>
<line x1="246.30" y1="314.40" x2="249.70" y2="314.40" stroke="#000" stroke-width="0.85"/>
<text x="245.40" y="316.40" font-size="5.6" text-anchor="end" fill="#000" stroke="#000" stroke-width="0.14">20</text>
<line x1="246.30" y1="329.20" x2="249.70" y2="329.20" stroke="#000" stroke-width="0.85"/>
<text x="245.40" y="331.20" font-size="5.6" text-anchor="end" fill="#000" stroke="#000" stroke-width="0.14">0</text>
<path d="M256.60 329.20V281.50H270.50V329.20" fill="#fff" stroke="#000" stroke-width="1.05"/>
<path d="M278.40 329.20V303.20H292.50V329.20" fill="#fff" stroke="#000" stroke-width="1.05"/>
<path d="M300.40 329.20V296.10H314.50V329.20" fill="#fff" stroke="#000" stroke-width="1.05"/>
<line x1="249.27" y1="329.20" x2="321.80" y2="329.20" stroke="#000" stroke-width="0.85"/>
<line x1="263.50" y1="329.20" x2="263.50" y2="332.20" stroke="#000" stroke-width="0.85"/>
<line x1="285.40" y1="329.20" x2="285.40" y2="332.20" stroke="#000" stroke-width="0.85"/>
<line x1="307.40" y1="329.20" x2="307.40" y2="332.20" stroke="#000" stroke-width="0.85"/>
<text x="230.30" y="293.90" font-size="5.9" text-anchor="middle" fill="#000" stroke="#000" stroke-width="0.14" transform="rotate(-90 230.30 293.90)" textLength="44.00" lengthAdjust="spacingAndGlyphs">Freezing time (%)</text>
<text x="284.00" y="224.20" font-size="5.7" text-anchor="middle" fill="#000" stroke="#000" stroke-width="0.14">Day 2</text>
<path d="M263.00 258.90V255.00H285.40V287.30" fill="none" stroke="#000" stroke-width="0.8"/>
<text x="274.00" y="251.20" font-size="5.6" text-anchor="middle" fill="#000" stroke="#000" stroke-width="0.14">&lt;0.0001</text>
<path d="M285.40 244.00V239.50H307.70V283.00" fill="none" stroke="#000" stroke-width="0.8"/>
<text x="296.60" y="235.10" font-size="5.6" text-anchor="middle" fill="#000" stroke="#000" stroke-width="0.14">0.0564</text>
<line x1="263.50" y1="273.70" x2="263.50" y2="292.80" stroke="#000" stroke-width="0.55"/>
<line x1="260.60" y1="273.70" x2="266.40" y2="273.70" stroke="#000" stroke-width="0.55"/>
<line x1="260.60" y1="292.80" x2="266.40" y2="292.80" stroke="#000" stroke-width="0.55"/>
<circle cx="262.90" cy="263.60" r="1.45" fill="#000"/>
<circle cx="262.90" cy="272.00" r="1.45" fill="#000"/>
<circle cx="260.70" cy="274.60" r="1.45" fill="#000"/>
<circle cx="265.10" cy="274.60" r="1.45" fill="#000"/>
<circle cx="262.90" cy="277.50" r="1.45" fill="#000"/>
<circle cx="260.70" cy="282.50" r="1.45" fill="#000"/>
<circle cx="266.20" cy="282.50" r="1.45" fill="#000"/>
<circle cx="262.90" cy="284.70" r="1.45" fill="#000"/>
<circle cx="260.10" cy="287.30" r="1.45" fill="#000"/>
<circle cx="266.20" cy="286.90" r="1.45" fill="#000"/>
<circle cx="260.10" cy="292.80" r="1.45" fill="#000"/>
<circle cx="266.20" cy="292.80" r="1.45" fill="#000"/>
<line x1="285.40" y1="295.00" x2="285.40" y2="311.00" stroke="#0000ff" stroke-width="0.55"/>
<line x1="282.50" y1="295.00" x2="288.30" y2="295.00" stroke="#0000ff" stroke-width="0.55"/>
<line x1="282.50" y1="311.00" x2="288.30" y2="311.00" stroke="#0000ff" stroke-width="0.55"/>
<path d="M285.40 289.15L286.85 291.69L283.95 291.69Z" fill="#0000ff"/>
<path d="M282.10 292.05L283.55 294.59L280.65 294.59Z" fill="#0000ff"/>
<path d="M288.70 292.05L290.15 294.59L287.25 294.59Z" fill="#0000ff"/>
<path d="M285.40 296.85L286.85 299.39L283.95 299.39Z" fill="#0000ff"/>
<path d="M279.90 302.35L281.35 304.89L278.45 304.89Z" fill="#0000ff"/>
<path d="M285.40 303.45L286.85 305.99L283.95 305.99Z" fill="#0000ff"/>
<path d="M290.90 302.35L292.35 304.89L289.45 304.89Z" fill="#0000ff"/>
<path d="M282.10 306.75L283.55 309.29L280.65 309.29Z" fill="#0000ff"/>
<path d="M288.70 306.75L290.15 309.29L287.25 309.29Z" fill="#0000ff"/>
<path d="M285.40 310.55L286.85 313.09L283.95 313.09Z" fill="#0000ff"/>
<line x1="307.40" y1="291.60" x2="307.40" y2="300.60" stroke="#ff0000" stroke-width="0.55"/>
<line x1="304.50" y1="291.60" x2="310.30" y2="291.60" stroke="#ff0000" stroke-width="0.55"/>
<line x1="304.50" y1="300.60" x2="310.30" y2="300.60" stroke="#ff0000" stroke-width="0.55"/>
<path d="M307.30 287.65L308.75 285.11L305.85 285.11Z" fill="#ff0000"/>
<path d="M304.70 290.55L306.15 288.01L303.25 288.01Z" fill="#ff0000"/>
<path d="M310.60 290.55L312.05 288.01L309.15 288.01Z" fill="#ff0000"/>
<path d="M307.30 293.15L308.75 290.61L305.85 290.61Z" fill="#ff0000"/>
<path d="M302.50 295.35L303.95 292.81L301.05 292.81Z" fill="#ff0000"/>
<path d="M307.30 296.45L308.75 293.91L305.85 293.91Z" fill="#ff0000"/>
<path d="M312.40 295.35L313.85 292.81L310.95 292.81Z" fill="#ff0000"/>
<path d="M302.50 299.75L303.95 297.21L301.05 297.21Z" fill="#ff0000"/>
<path d="M307.30 299.75L308.75 297.21L305.85 297.21Z" fill="#ff0000"/>
<path d="M312.80 299.75L314.25 297.21L311.35 297.21Z" fill="#ff0000"/>
<path d="M304.70 303.05L306.15 300.51L303.25 300.51Z" fill="#ff0000"/>
<path d="M310.20 303.05L311.65 300.51L308.75 300.51Z" fill="#ff0000"/>
<path d="M307.30 305.25L308.75 302.71L305.85 302.71Z" fill="#ff0000"/>
<text x="264.80" y="338.40" font-size="6.3" text-anchor="end" fill="#000" transform="rotate(-45 264.80 338.40)" stroke="#000" stroke-width="0.14">WT</text>
<text x="286.70" y="338.40" font-size="6.3" text-anchor="end" fill="#000" transform="rotate(-45 286.70 338.40)" stroke="#000" stroke-width="0.14"><tspan font-style="italic">Hgsnat</tspan><tspan font-size="4.1" dy="-2.2">P304L</tspan></text>
<text x="308.70" y="338.40" font-size="6.3" text-anchor="end" fill="#000" transform="rotate(-45 308.70 338.40)" stroke="#000" stroke-width="0.14"><tspan font-style="italic">Hgsnat</tspan><tspan font-size="4.1" dy="-2.2">P304L</tspan><tspan dy="2.2">-BM</tspan></text>
<line x1="353.30" y1="254.77" x2="353.30" y2="329.62" stroke="#000" stroke-width="0.85"/>
<line x1="349.90" y1="255.20" x2="353.30" y2="255.20" stroke="#000" stroke-width="0.85"/>
<text x="349.00" y="257.20" font-size="5.6" text-anchor="end" fill="#000" stroke="#000" stroke-width="0.14">100</text>
<line x1="349.90" y1="270.00" x2="353.30" y2="270.00" stroke="#000" stroke-width="0.85"/>
<text x="349.00" y="272.00" font-size="5.6" text-anchor="end" fill="#000" stroke="#000" stroke-width="0.14">80</text>
<line x1="349.90" y1="284.80" x2="353.30" y2="284.80" stroke="#000" stroke-width="0.85"/>
<text x="349.00" y="286.80" font-size="5.6" text-anchor="end" fill="#000" stroke="#000" stroke-width="0.14">60</text>
<line x1="349.90" y1="299.60" x2="353.30" y2="299.60" stroke="#000" stroke-width="0.85"/>
<text x="349.00" y="301.60" font-size="5.6" text-anchor="end" fill="#000" stroke="#000" stroke-width="0.14">40</text>
<line x1="349.90" y1="314.40" x2="353.30" y2="314.40" stroke="#000" stroke-width="0.85"/>
<text x="349.00" y="316.40" font-size="5.6" text-anchor="end" fill="#000" stroke="#000" stroke-width="0.14">20</text>
<line x1="349.90" y1="329.20" x2="353.30" y2="329.20" stroke="#000" stroke-width="0.85"/>
<text x="349.00" y="331.20" font-size="5.6" text-anchor="end" fill="#000" stroke="#000" stroke-width="0.14">0</text>
<path d="M361.00 329.20V284.40H375.00V329.20" fill="#fff" stroke="#000" stroke-width="1.05"/>
<path d="M382.50 329.20V305.50H396.80V329.20" fill="#fff" stroke="#000" stroke-width="1.05"/>
<path d="M404.90 329.20V299.20H419.00V329.20" fill="#fff" stroke="#000" stroke-width="1.05"/>
<line x1="352.88" y1="329.20" x2="427.50" y2="329.20" stroke="#000" stroke-width="0.85"/>
<line x1="367.90" y1="329.20" x2="367.90" y2="332.20" stroke="#000" stroke-width="0.85"/>
<line x1="389.80" y1="329.20" x2="389.80" y2="332.20" stroke="#000" stroke-width="0.85"/>
<line x1="412.00" y1="329.20" x2="412.00" y2="332.20" stroke="#000" stroke-width="0.85"/>
<text x="334.30" y="293.90" font-size="5.9" text-anchor="middle" fill="#000" stroke="#000" stroke-width="0.14" transform="rotate(-90 334.30 293.90)" textLength="44.00" lengthAdjust="spacingAndGlyphs">Freezing time (%)</text>
<text x="385.10" y="230.20" font-size="5.7" text-anchor="middle" fill="#000" stroke="#000" stroke-width="0.14">Day 7</text>
<path d="M367.50 264.90V260.70H389.80V293.50" fill="none" stroke="#000" stroke-width="0.8"/>
<text x="378.60" y="257.10" font-size="5.6" text-anchor="middle" fill="#000" stroke="#000" stroke-width="0.14">&lt;0.0001</text>
<path d="M389.80 249.50V244.70H412.00V290.00" fill="none" stroke="#000" stroke-width="0.8"/>
<text x="400.80" y="240.60" font-size="5.6" text-anchor="middle" fill="#000" stroke="#000" stroke-width="0.14">0.0468</text>
<line x1="367.90" y1="275.30" x2="367.90" y2="292.80" stroke="#000" stroke-width="0.55"/>
<line x1="365.00" y1="275.30" x2="370.80" y2="275.30" stroke="#000" stroke-width="0.55"/>
<line x1="365.00" y1="292.80" x2="370.80" y2="292.80" stroke="#000" stroke-width="0.55"/>
<circle cx="367.40" cy="269.10" r="1.45" fill="#000"/>
<circle cx="367.40" cy="271.70" r="1.45" fill="#000"/>
<circle cx="367.40" cy="277.50" r="1.45" fill="#000"/>
<circle cx="364.70" cy="283.00" r="1.45" fill="#000"/>
<circle cx="373.50" cy="281.80" r="1.45" fill="#000"/>
<circle cx="367.40" cy="284.00" r="1.45" fill="#000"/>
<circle cx="361.90" cy="287.30" r="1.45" fill="#000"/>
<circle cx="367.40" cy="288.40" r="1.45" fill="#000"/>
<circle cx="373.50" cy="287.30" r="1.45" fill="#000"/>
<circle cx="364.70" cy="292.20" r="1.45" fill="#000"/>
<circle cx="373.50" cy="291.70" r="1.45" fill="#000"/>
<circle cx="367.40" cy="297.90" r="1.45" fill="#000"/>
<line x1="389.80" y1="300.60" x2="389.80" y2="310.40" stroke="#0000ff" stroke-width="0.55"/>
<line x1="386.90" y1="300.60" x2="392.70" y2="300.60" stroke="#0000ff" stroke-width="0.55"/>
<line x1="386.90" y1="310.40" x2="392.70" y2="310.40" stroke="#0000ff" stroke-width="0.55"/>
<path d="M383.90 297.35L385.35 299.89L382.45 299.89Z" fill="#0000ff"/>
<path d="M389.40 297.95L390.85 300.49L387.95 300.49Z" fill="#0000ff"/>
<path d="M386.70 300.15L388.15 302.69L385.25 302.69Z" fill="#0000ff"/>
<path d="M391.60 299.25L393.05 301.79L390.15 301.79Z" fill="#0000ff"/>
<path d="M394.90 300.85L396.35 303.39L393.45 303.39Z" fill="#0000ff"/>
<path d="M383.90 303.45L385.35 305.99L382.45 305.99Z" fill="#0000ff"/>
<path d="M389.40 303.05L390.85 305.59L387.95 305.59Z" fill="#0000ff"/>
<path d="M392.70 303.45L394.15 305.99L391.25 305.99Z" fill="#0000ff"/>
<path d="M387.20 306.75L388.65 309.29L385.75 309.29Z" fill="#0000ff"/>
<path d="M391.60 306.15L393.05 308.69L390.15 308.69Z" fill="#0000ff"/>
<path d="M389.40 309.55L390.85 312.09L387.95 312.09Z" fill="#0000ff"/>
<path d="M385.00 299.05L386.45 301.59L383.55 301.59Z" fill="#0000ff"/>
<line x1="412.00" y1="294.60" x2="412.00" y2="303.80" stroke="#ff0000" stroke-width="0.55"/>
<line x1="409.10" y1="294.60" x2="414.90" y2="294.60" stroke="#ff0000" stroke-width="0.55"/>
<line x1="409.10" y1="303.80" x2="414.90" y2="303.80" stroke="#ff0000" stroke-width="0.55"/>
<path d="M411.30 293.15L412.75 290.61L409.85 290.61Z" fill="#ff0000"/>
<path d="M406.50 294.95L407.95 292.41L405.05 292.41Z" fill="#ff0000"/>
<path d="M409.10 295.35L410.55 292.81L407.65 292.81Z" fill="#ff0000"/>
<path d="M414.60 294.95L416.05 292.41L413.15 292.41Z" fill="#ff0000"/>
<path d="M417.50 294.95L418.95 292.41L416.05 292.41Z" fill="#ff0000"/>
<path d="M411.30 297.55L412.75 295.01L409.85 295.01Z" fill="#ff0000"/>
<path d="M408.70 299.35L410.15 296.81L407.25 296.81Z" fill="#ff0000"/>
<path d="M414.60 299.75L416.05 297.21L413.15 297.21Z" fill="#ff0000"/>
<path d="M411.30 301.95L412.75 299.41L409.85 299.41Z" fill="#ff0000"/>
<path d="M409.10 304.15L410.55 301.61L407.65 301.61Z" fill="#ff0000"/>
<path d="M415.70 304.15L417.15 301.61L414.25 301.61Z" fill="#ff0000"/>
<path d="M411.30 306.35L412.75 303.81L409.85 303.81Z" fill="#ff0000"/>
<path d="M408.70 308.15L410.15 305.61L407.25 305.61Z" fill="#ff0000"/>
<text x="369.20" y="338.40" font-size="6.3" text-anchor="end" fill="#000" transform="rotate(-45 369.20 338.40)" stroke="#000" stroke-width="0.14">WT</text>
<text x="391.10" y="338.40" font-size="6.3" text-anchor="end" fill="#000" transform="rotate(-45 391.10 338.40)" stroke="#000" stroke-width="0.14"><tspan font-style="italic">Hgsnat</tspan><tspan font-size="4.1" dy="-2.2">P304L</tspan></text>
<text x="413.30" y="338.40" font-size="6.3" text-anchor="end" fill="#000" transform="rotate(-45 413.30 338.40)" stroke="#000" stroke-width="0.14"><tspan font-style="italic">Hgsnat</tspan><tspan font-size="4.1" dy="-2.2">P304L</tspan><tspan dy="2.2">-BM</tspan></text>
<line x1="462.50" y1="254.77" x2="462.50" y2="329.62" stroke="#000" stroke-width="0.85"/>
<line x1="459.10" y1="255.20" x2="462.50" y2="255.20" stroke="#000" stroke-width="0.85"/>
<text x="458.60" y="257.20" font-size="5.8" text-anchor="end" fill="#000" stroke="#000" stroke-width="0.14">300</text>
<line x1="459.10" y1="279.90" x2="462.50" y2="279.90" stroke="#000" stroke-width="0.85"/>
<text x="458.60" y="281.90" font-size="5.8" text-anchor="end" fill="#000" stroke="#000" stroke-width="0.14">200</text>
<line x1="459.10" y1="304.50" x2="462.50" y2="304.50" stroke="#000" stroke-width="0.85"/>
<text x="458.60" y="306.50" font-size="5.8" text-anchor="end" fill="#000" stroke="#000" stroke-width="0.14">100</text>
<line x1="459.10" y1="329.20" x2="462.50" y2="329.20" stroke="#000" stroke-width="0.85"/>
<text x="458.60" y="331.20" font-size="5.8" text-anchor="end" fill="#000" stroke="#000" stroke-width="0.14">0</text>
<path d="M467.90 329.20V313.30H473.50V329.20" fill="#fff" stroke="#000" stroke-width="0.9"/>
<path d="M477.20 329.20V301.00H483.00V329.20" fill="#fff" stroke="#000" stroke-width="0.9"/>
<path d="M493.10 329.20V317.70H499.00V329.20" fill="#fff" stroke="#000" stroke-width="0.9"/>
<path d="M502.40 329.20V308.20H508.30V329.20" fill="#fff" stroke="#000" stroke-width="0.9"/>
<path d="M518.30 329.20V313.70H524.10V329.20" fill="#fff" stroke="#000" stroke-width="0.9"/>
<path d="M527.80 329.20V296.80H533.50V329.20" fill="#fff" stroke="#000" stroke-width="0.9"/>
<line x1="462.07" y1="329.20" x2="536.40" y2="329.20" stroke="#000" stroke-width="0.85"/>
<line x1="475.50" y1="329.20" x2="475.50" y2="332.20" stroke="#000" stroke-width="0.85"/>
<line x1="500.70" y1="329.20" x2="500.70" y2="332.20" stroke="#000" stroke-width="0.85"/>
<line x1="526.00" y1="329.20" x2="526.00" y2="332.20" stroke="#000" stroke-width="0.85"/>
<text x="446.00" y="291.70" font-size="5.9" text-anchor="middle" fill="#000" stroke="#000" stroke-width="0.14" transform="rotate(-90 446.00 291.70)" textLength="41.40" lengthAdjust="spacingAndGlyphs">Duratuion (Sec)</text>
<path d="M470.40 297.90V266.00H480.20V274.20" fill="none" stroke="#000" stroke-width="0.8"/>
<text x="475.40" y="262.10" font-size="5.9" text-anchor="middle" fill="#000" stroke="#000" stroke-width="0.14">0.0095</text>
<path d="M495.30 302.70V266.00H505.10V292.90" fill="none" stroke="#000" stroke-width="0.8"/>
<text x="501.00" y="262.10" font-size="5.9" text-anchor="middle" fill="#000" stroke="#000" stroke-width="0.14">0.0717</text>
<path d="M520.50 299.50V266.00H530.40V272.00" fill="none" stroke="#000" stroke-width="0.8"/>
<text x="526.70" y="262.10" font-size="5.9" text-anchor="middle" fill="#000" stroke="#000" stroke-width="0.14">0.0001</text>
<circle cx="470.30" cy="300.50" r="1.4" fill="#0000ff"/>
<circle cx="470.30" cy="303.20" r="1.4" fill="#0000ff"/>
<circle cx="468.80" cy="308.20" r="1.4" fill="#0000ff"/>
<circle cx="472.10" cy="307.60" r="1.4" fill="#0000ff"/>
<circle cx="470.30" cy="310.40" r="1.4" fill="#0000ff"/>
<circle cx="468.80" cy="313.70" r="1.4" fill="#0000ff"/>
<circle cx="472.10" cy="314.80" r="1.4" fill="#0000ff"/>
<circle cx="470.30" cy="317.00" r="1.4" fill="#0000ff"/>
<circle cx="468.80" cy="319.90" r="1.4" fill="#0000ff"/>
<circle cx="471.40" cy="320.30" r="1.4" fill="#0000ff"/>
<circle cx="470.30" cy="324.70" r="1.4" fill="#0000ff"/>
<circle cx="480.20" cy="278.10" r="1.4" fill="#ff0000"/>
<circle cx="480.20" cy="284.70" r="1.4" fill="#ff0000"/>
<circle cx="480.20" cy="297.90" r="1.4" fill="#ff0000"/>
<circle cx="478.70" cy="303.80" r="1.4" fill="#ff0000"/>
<circle cx="481.50" cy="302.70" r="1.4" fill="#ff0000"/>
<circle cx="478.70" cy="307.10" r="1.4" fill="#ff0000"/>
<circle cx="481.50" cy="307.60" r="1.4" fill="#ff0000"/>
<circle cx="480.20" cy="309.80" r="1.4" fill="#ff0000"/>
<circle cx="480.20" cy="313.30" r="1.4" fill="#ff0000"/>
<circle cx="480.20" cy="301.40" r="1.0" fill="#fff"/>
<circle cx="496.30" cy="306.00" r="1.4" fill="#0000ff"/>
<circle cx="496.30" cy="308.90" r="1.4" fill="#0000ff"/>
<circle cx="496.30" cy="317.70" r="1.4" fill="#0000ff"/>
<circle cx="494.70" cy="320.30" r="1.4" fill="#0000ff"/>
<circle cx="497.40" cy="320.80" r="1.4" fill="#0000ff"/>
<circle cx="494.70" cy="323.60" r="1.4" fill="#0000ff"/>
<circle cx="497.80" cy="324.30" r="1.4" fill="#0000ff"/>
<circle cx="496.30" cy="325.80" r="1.4" fill="#0000ff"/>
<circle cx="495.40" cy="322.00" r="1.4" fill="#0000ff"/>
<circle cx="504.00" cy="296.20" r="1.4" fill="#ff0000"/>
<circle cx="507.30" cy="297.90" r="1.4" fill="#ff0000"/>
<circle cx="505.00" cy="302.70" r="1.4" fill="#ff0000"/>
<circle cx="507.30" cy="305.00" r="1.4" fill="#ff0000"/>
<circle cx="503.50" cy="307.60" r="1.4" fill="#ff0000"/>
<circle cx="506.60" cy="308.90" r="1.4" fill="#ff0000"/>
<circle cx="505.00" cy="312.60" r="1.4" fill="#ff0000"/>
<circle cx="503.50" cy="315.50" r="1.4" fill="#ff0000"/>
<circle cx="506.60" cy="315.90" r="1.4" fill="#ff0000"/>
<circle cx="523.70" cy="301.00" r="1.4" fill="#0000ff"/>
<circle cx="521.50" cy="303.20" r="1.4" fill="#0000ff"/>
<circle cx="519.80" cy="306.00" r="1.4" fill="#0000ff"/>
<circle cx="519.80" cy="310.40" r="1.4" fill="#0000ff"/>
<circle cx="522.60" cy="311.50" r="1.4" fill="#0000ff"/>
<circle cx="521.10" cy="313.70" r="1.4" fill="#0000ff"/>
<circle cx="523.70" cy="314.80" r="1.4" fill="#0000ff"/>
<circle cx="519.80" cy="316.00" r="1.4" fill="#0000ff"/>
<circle cx="522.60" cy="317.00" r="1.4" fill="#0000ff"/>
<circle cx="521.50" cy="322.00" r="1.4" fill="#0000ff"/>
<circle cx="521.50" cy="328.40" r="1.4" fill="#0000ff"/>
<circle cx="530.80" cy="274.60" r="1.4" fill="#ff0000"/>
<circle cx="532.50" cy="283.00" r="1.4" fill="#ff0000"/>
<circle cx="529.20" cy="284.70" r="1.4" fill="#ff0000"/>
<circle cx="530.80" cy="287.80" r="1.4" fill="#ff0000"/>
<circle cx="530.80" cy="290.70" r="1.4" fill="#ff0000"/>
<circle cx="529.20" cy="294.00" r="1.4" fill="#ff0000"/>
<circle cx="532.10" cy="295.00" r="1.4" fill="#ff0000"/>
<circle cx="530.80" cy="298.40" r="1.4" fill="#ff0000"/>
<circle cx="529.20" cy="301.60" r="1.4" fill="#ff0000"/>
<circle cx="532.50" cy="302.70" r="1.4" fill="#ff0000"/>
<circle cx="530.80" cy="305.40" r="1.4" fill="#ff0000"/>
<circle cx="529.20" cy="308.90" r="1.4" fill="#ff0000"/>
<circle cx="532.50" cy="309.30" r="1.4" fill="#ff0000"/>
<circle cx="530.80" cy="314.80" r="1.4" fill="#ff0000"/>
<text x="476.80" y="338.40" font-size="6.3" text-anchor="end" fill="#000" transform="rotate(-45 476.80 338.40)" stroke="#000" stroke-width="0.14">WT</text>
<text x="502.00" y="338.40" font-size="6.3" text-anchor="end" fill="#000" transform="rotate(-45 502.00 338.40)" stroke="#000" stroke-width="0.14"><tspan font-style="italic">Hgsnat</tspan><tspan font-size="4.1" dy="-2.2">P304L</tspan></text>
<text x="527.30" y="338.40" font-size="6.3" text-anchor="end" fill="#000" transform="rotate(-45 527.30 338.40)" stroke="#000" stroke-width="0.14"><tspan font-style="italic">Hgsnat</tspan><tspan font-size="4.1" dy="-2.2">P304L</tspan><tspan dy="2.2">-BM</tspan></text>
<circle cx="476.30" cy="237.80" r="1.5" fill="#0000ff"/>
<circle cx="476.30" cy="245.20" r="1.5" fill="#ff0000"/>
<text x="484.80" y="239.60" font-size="5.95" text-anchor="start" fill="#000" stroke="#000" stroke-width="0.14">Empty chamber</text>
<text x="484.80" y="246.90" font-size="5.95" text-anchor="start" fill="#000" stroke="#000" stroke-width="0.14">Chamber with a stranger</text>
</svg>
</body></html>
